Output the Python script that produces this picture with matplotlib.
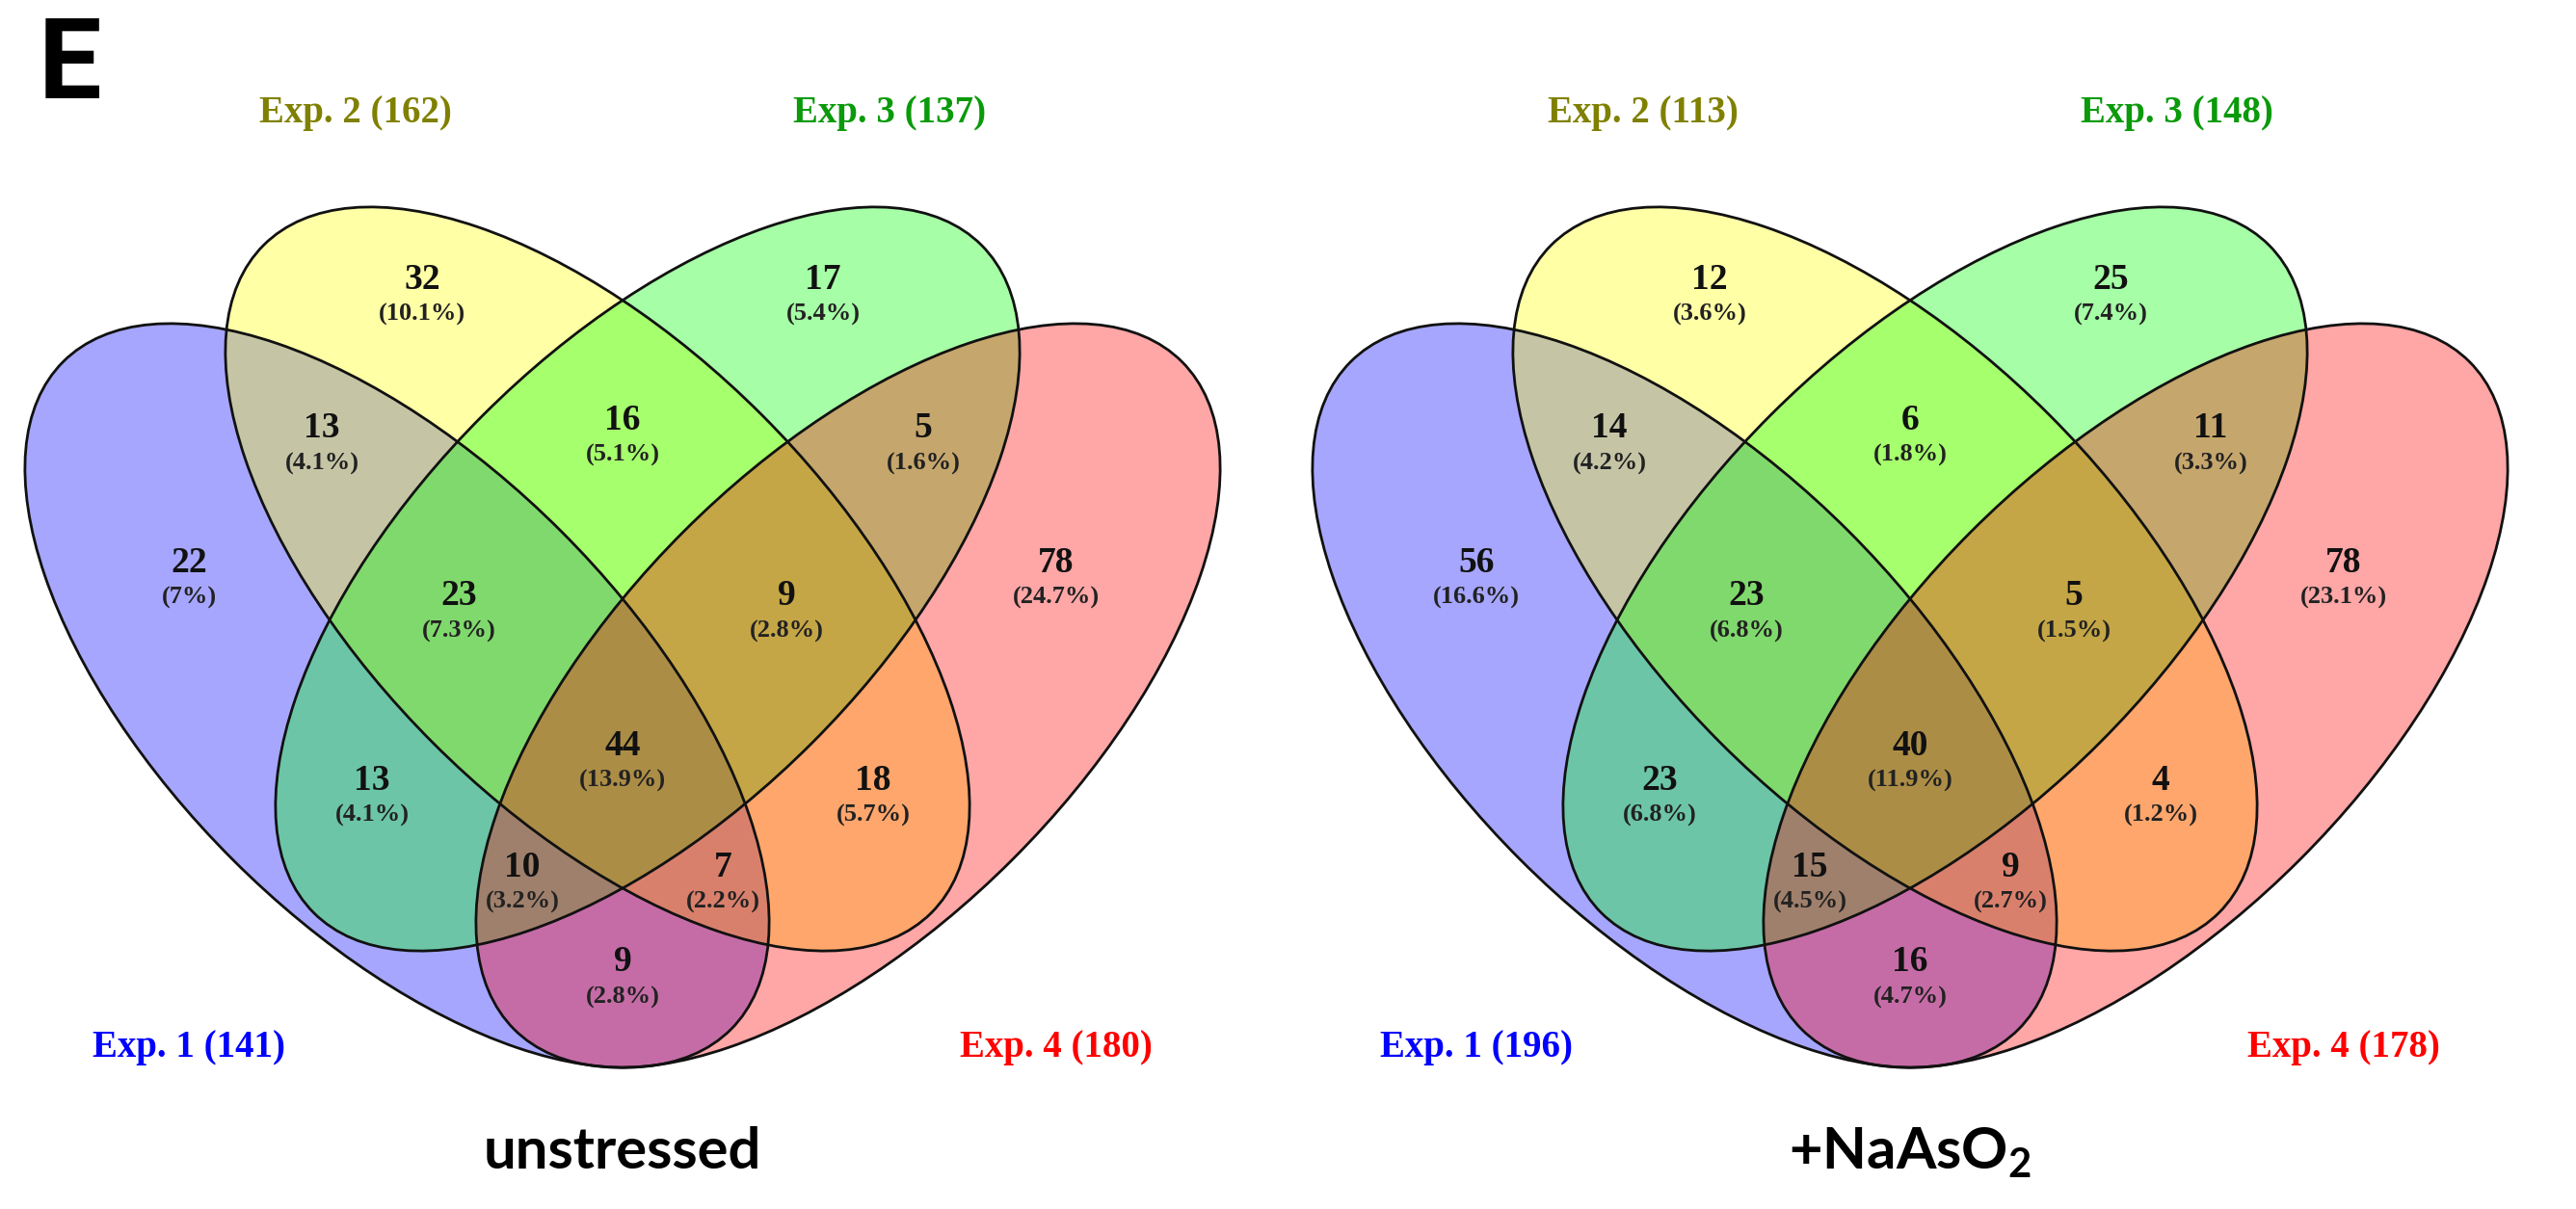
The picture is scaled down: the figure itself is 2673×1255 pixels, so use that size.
import matplotlib
matplotlib.use('Agg')
import matplotlib.pyplot as plt
from matplotlib.patches import Ellipse

# regions named by the experiments they belong to
regions = ['2', '3', '12', '23', '34', '1', '123', '234', '4', '1234', '13', '24', '134', '124', '14']

set_names = ['Exp. 1', 'Exp. 2', 'Exp. 3', 'Exp. 4']
set_colors = ['#0000ff', '#808000', '#0a9a0a', '#ff0000']
fill_colors = ['#0000ff', '#ffff00', '#00ff00', '#ff0000']

unstressed_counts = [32, 17, 13, 16, 5, 22, 23, 9, 78, 44, 13, 18, 10, 7, 9]
unstressed_pct = ['10.1%', '5.4%', '4.1%', '5.1%', '1.6%', '7%', '7.3%', '2.8%',
                  '24.7%', '13.9%', '4.1%', '5.7%', '3.2%', '2.2%', '2.8%']
unstressed_totals = [141, 162, 137, 180]

arsenite_counts = [12, 25, 14, 6, 11, 56, 23, 5, 78, 40, 23, 4, 15, 9, 16]
arsenite_pct = ['3.6%', '7.4%', '4.2%', '1.8%', '3.3%', '16.6%', '6.8%', '1.5%',
                '23.1%', '11.9%', '6.8%', '1.2%', '4.5%', '2.7%', '4.7%']
arsenite_totals = [196, 113, 148, 178]

# layout (pixels, relative to the centre line of a diagram)
ell_pos = [(-234, 722), (-26, 601), (26, 601), (234, 722)]
ell_ang = [45, 45, -45, -45]
ell_a, ell_b = 490, 241
reg_pos = {'2': (-208, 290), '3': (208, 290), '12': (-312, 445), '23': (0, 436),
           '34': (312, 445), '1': (-450, 584), '123': (-170, 619), '234': (170, 619),
           '4': (450, 584), '1234': (0, 774), '13': (-260, 810), '24': (260, 810),
           '134': (-104, 900), '124': (104, 900), '14': (0, 999)}
lab_pos = [(-450, 1087), (-277, 117), (277, 117), (450, 1087)]

serif = 'Liberation Serif'
sans = 'Lato'
plt.rcParams['mathtext.fontset'] = 'custom'
plt.rcParams['mathtext.rm'] = 'Lato:bold'
plt.rcParams['mathtext.bf'] = 'Lato:bold'

fig = plt.figure(figsize=(26.73, 12.55), dpi=100)
ax = fig.add_axes([0, 0, 1, 1])
ax.set_xlim(0, 2673)
ax.set_ylim(1255, 0)
ax.axis('off')


def venn(cx, counts, pcts, totals, title):
    for (dx, y), ang, col in zip(ell_pos, ell_ang, fill_colors):
        ax.add_patch(Ellipse((cx + dx, y), 2 * ell_a, 2 * ell_b, angle=ang,
                             facecolor=col, alpha=0.35, edgecolor='none'))
    for (dx, y), ang in zip(ell_pos, ell_ang):
        ax.add_patch(Ellipse((cx + dx, y), 2 * ell_a, 2 * ell_b, angle=ang,
                             facecolor='none', edgecolor='#111111', lw=2.0))
    for r, n, p in zip(regions, counts, pcts):
        dx, y = reg_pos[r]
        ax.text(cx + dx, y, str(n), ha='center', va='center', fontsize=27,
                fontweight='bold', family=serif, color='#111111')
        ax.text(cx + dx, y + 36, '(' + p + ')', ha='center', va='center', fontsize=19,
                fontweight='bold', family=serif, color='#222222')
    for (dx, y), name, tot, col in zip(lab_pos, set_names, totals, set_colors):
        ax.text(cx + dx, y, '%s (%d)' % (name, tot), ha='center', va='center',
                fontsize=28, fontweight='bold', family=serif, color=col)
    ax.text(cx, 1213, title, ha='center', va='baseline', fontsize=43,
            fontweight='bold', family=sans, color='black')


venn(646, unstressed_counts, unstressed_pct, unstressed_totals, 'unstressed')
venn(1982, arsenite_counts, arsenite_pct, arsenite_totals, r'+NaAsO$_{2}$')

ax.text(40, 102, 'E', ha='left', va='baseline', fontsize=84, fontweight='bold',
        family='Roboto', color='black')

fig.savefig('out.png', dpi=100)
